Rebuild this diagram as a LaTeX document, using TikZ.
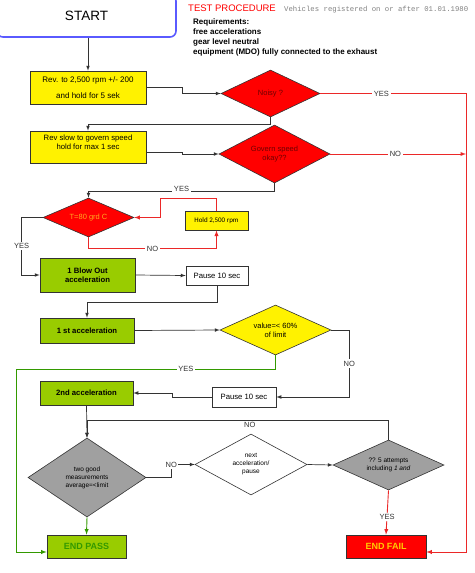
\documentclass[tikz,border=0pt]{standalone}
\usepackage{fontspec}
\setmainfont{Liberation Sans}
\newfontfamily\typefont{Liberation Mono}
\newfontfamily\calfont{Carlito}
\usetikzlibrary{shapes.geometric}
\definecolor{leaf}{RGB}{153,204,0}
\definecolor{passgreen}{RGB}{51,153,0}
\definecolor{failyellow}{RGB}{255,204,0}
\definecolor{temporange}{RGB}{255,170,30}
\definecolor{startblue}{RGB}{90,90,255}
\definecolor{darkred}{RGB}{110,0,0}
\definecolor{midgray}{RGB}{160,160,160}
\definecolor{inkgray}{RGB}{51,51,51}
\definecolor{linered}{RGB}{235,40,40}

\begin{document}
\begin{tikzpicture}[
        x=1pt, y=-1pt,
        box/.style={rectangle, draw=inkgray, line width=0.7pt, inner sep=1pt, align=center, font=\fontsize{7.7}{9}\selectfont},
        yellowbox/.style={box, fill=yellow},
        greenbox/.style={box, fill=leaf, font=\bfseries\fontsize{7.7}{9}\selectfont},
        decision/.style={diamond, aspect=2.2, draw=inkgray, line width=0.6pt, inner sep=0pt, align=center, font=\fontsize{6.5}{8}\selectfont},
        lbl/.style={fill=white, inner sep=1.5pt, text=inkgray, font=\fontsize{7.5}{8}\selectfont},
        flow/.style={-latex, draw=inkgray, line width=0.7pt},
        redflow/.style={-latex, draw=linered, line width=0.9pt},
        greenflow/.style={-latex, draw=passgreen, line width=0.9pt},
    ]
    \useasboundingbox (0,0) rectangle (474,573);

    \node[draw=startblue, fill=white, line width=1.6pt, rounded corners=6pt, minimum width=179pt, minimum height=42pt, font=\fontsize{13.5}{14}\selectfont] (start) at (86.5,16) {\raisebox{-3pt}{START}};
    \node[anchor=base west, inner sep=0, text=red, font=\fontsize{9.5}{10}\selectfont] (title) at (188,11.5) {TEST PROCEDURE};
    \node[anchor=base west, inner sep=0, text=gray, font=\typefont\fontsize{7.3}{8}\selectfont] (regdate) at (284,11) {Vehicles registered on or after 01.01.1980};
    \node[anchor=north west, inner sep=0, align=left, font=\bfseries\fontsize{8}{10}\selectfont] (req) at (193,18.5) {Requirements:\\free accelerations\\gear level neutral\\equipment (MDO) fully connected to the exhaust};

    \node[yellowbox, minimum width=116pt, minimum height=33pt, font=\fontsize{8}{9.5}\selectfont] (rev) at (88,87.5) {Rev. to 2,500 rpm +/- 200\\[6.5pt]and hold for 5 sek};
    \node[decision, fill=red, text=darkred, minimum width=99pt, minimum height=47pt, font=\fontsize{7.5}{9}\selectfont] (noisy) at (270.5,93.5) {Noisy ?};
    \node[yellowbox, minimum width=116pt, minimum height=32pt] (slow) at (88,147) {Rev slow to govern speed\\hold for max 1 sec\\ \mbox{}};
    \node[decision, fill=red, text=darkred, minimum width=111pt, minimum height=58pt, font=\fontsize{7.5}{9}\selectfont] (govern) at (274.5,154) {Govern speed\\okay??};
    \node[decision, fill=red, text=temporange, minimum width=91pt, minimum height=39pt, font=\fontsize{7.5}{9}\selectfont] (temp) at (88.5,217.5) {T=80 grd C};
    \node[yellowbox, line width=1pt, minimum width=63pt, minimum height=19pt, font=\calfont\fontsize{7}{8}\selectfont] (hold) at (216.5,220.5) {Hold 2,500 rpm};
    \node[greenbox, minimum width=95pt, minimum height=34pt] (blow) at (87.5,275) {1 Blow Out\\acceleration};
    \node[box, fill=white, minimum width=62pt, minimum height=19pt] (pausea) at (217,275.5) {Pause 10 sec};
    \node[greenbox, minimum width=94pt, minimum height=25pt] (first) at (87,330.5) {1 st acceleration};
    \node[decision, fill=yellow, minimum width=111pt, minimum height=50pt, font=\fontsize{7.5}{9}\selectfont] (value) at (275.5,330) {value=< 60\%\\of limit};
    \node[box, fill=white, minimum width=64pt, minimum height=20pt] (pauseb) at (244,397) {Pause 10 sec};
    \node[greenbox, minimum width=93pt, minimum height=24pt] (second) at (86.5,393) {2nd acceleration};
    \node[decision, fill=midgray, minimum width=118pt, minimum height=79pt] (good) at (87,477.5) {two good\\measurements\\average=<limit};
    \node[decision, fill=white, minimum width=112pt, minimum height=61pt] (next) at (251,464.5) {next\\acceleration/\\pause};
    \node[decision, fill=midgray, minimum width=111pt, minimum height=50pt] (attempts) at (388.5,465) {?? 5 attempts\\including \textit{1 and}};
    \node[box, fill=leaf, text=passgreen, minimum width=79pt, minimum height=23pt, font=\bfseries\fontsize{9}{10}\selectfont] (pass) at (86.5,546.5) {END PASS};
    \node[box, fill=red, text=failyellow, minimum width=80pt, minimum height=23pt, font=\bfseries\fontsize{9}{10}\selectfont] (fail) at (386,546.5) {END FAIL};

    \coordinate (rail) at (466,93.5);
    \coordinate (failin) at ([yshift=-5.5pt]fail.east);
    \coordinate (passin) at ([yshift=-5.5pt]pass.west);

    \draw[flow] (rev.north |- start.south) -- (rev.north);
    \draw[flow] (rev.east) -- ++(36,0) |- (noisy.west);
    \draw[redflow] (noisy.east) -- node[lbl, pos=0.42] {YES} (rail) |- (failin);
    \draw[flow] (noisy.south) -- ++(0,7) -| (slow.north);
    \draw[flow] ([yshift=-5pt]slow.east) -- ++(36,0) |- (govern.west);
    \draw[redflow] (govern.east) -- node[lbl, pos=0.48] {NO} (govern.east -| rail);
    \draw[flow] (govern.south) -- ++(0,8) -| node[lbl, pos=0.25, yshift=2pt] {YES} (temp.north);
    \draw[redflow] (hold.north) -- ++(0,-12) -- ++(-56.5,0) |- (temp.east);
    \draw[redflow] (temp.south) -- ++(0,11) -| node[lbl, pos=0.25, yshift=-1pt] {NO} (hold.south);
    \draw[flow] (temp.west) -- ++(-21,0) |- node[lbl, pos=0.25] {YES} (blow.west);
    \draw[flow] (blow.east) -- (pausea.west);
    \draw[flow] (pausea.south) -- ++(0,17) -| (first.north);
    \draw[flow] (first.east) -- (value.west);
    \draw[greenflow] (value.south) -- ++(0,14) -- node[lbl, pos=0.345] {YES} ++(-259.5,0) |- (passin);
    \draw[flow] (value.east) -- ++(18,0) |- node[lbl, pos=0.25] {NO} (pauseb.east);
    \draw[flow] (pauseb.west) -- ++(-39,0) |- (second.east);
    \draw[flow] (second.south) -- (good.north);
    \draw[flow] (attempts.north) -- ++(0,-19) -| node[lbl, pos=0.23, yshift=-4pt] {NO} (good.north);
    \draw[flow] (good.east) -- ++(25,0) |- node[lbl, pos=0.5] {NO} (next.west);
    \draw[flow] (next.east) -- (attempts.west);
    \draw[redflow] (attempts.south) -- node[lbl, pos=0.6] {YES} (fail.north);
    \draw[greenflow] (good.south) -- (pass.north);
\end{tikzpicture}
\end{document}
